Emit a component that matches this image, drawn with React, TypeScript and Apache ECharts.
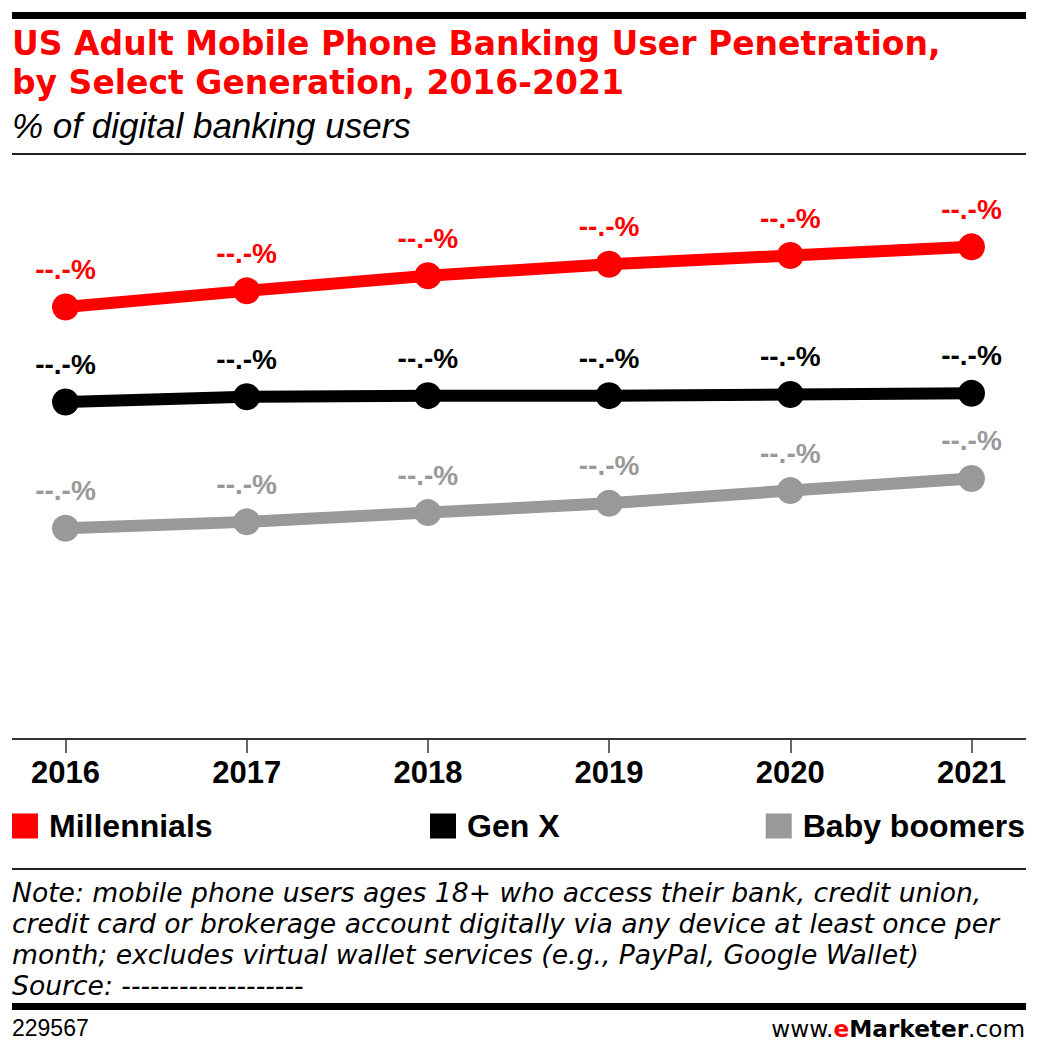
import React, { useEffect, useRef } from "react";
import * as echarts from "echarts";

const years = ["2016", "2017", "2018", "2019", "2020", "2021"];
const seriesNames = ["Millennials", "Gen X", "Baby boomers"];
const millennials = [74.6, 77.4, 80.0, 82.0, 83.5, 85.0];
const genX = [58.2, 59.1, 59.3, 59.3, 59.5, 59.7];
const boomers = [36.4, 37.5, 39.1, 40.7, 42.9, 45.0];
const valueLabel = "--.-%";
const seriesColors = ["#ff0000", "#000000", "#999999"];

const titleLines = [
  "US Adult Mobile Phone Banking User Penetration,",
  "by Select Generation, 2016-2021",
];
const subtitle = "% of digital banking users";
const noteLines = [
  "Note: mobile phone users ages 18+ who access their bank, credit union,",
  "credit card or brokerage account digitally via any device at least once per",
  "month; excludes virtual wallet services (e.g., PayPal, Google Wallet)",
  "Source: -------------------",
];
const chartId = "229567";

export default function App() {
  const ref = useRef<HTMLDivElement>(null);
  useEffect(() => {
    document.body.style.margin = "0";
    const chart = echarts.init(ref.current!, null, { renderer: "svg" });
    const allData = [millennials, genX, boomers];
    const series = seriesNames.map((name, i) => ({
      name,
      type: "line",
      data: allData[i],
      symbol: "circle",
      symbolSize: 27,
      lineStyle: { color: seriesColors[i], width: 12 },
      itemStyle: { color: seriesColors[i] },
      label: {
        show: true,
        position: "top",
        distance: 10,
        formatter: () => valueLabel,
        color: seriesColors[i],
        fontFamily: "Liberation Sans",
        fontWeight: "bold",
        fontSize: 28,
      },
      z: 3 - i,
    }));
    const legendBase = {
      orient: "horizontal",
      top: 810,
      padding: 0,
      icon: "rect",
      itemWidth: 26,
      itemHeight: 25,
      selectedMode: false,
      textStyle: {
        fontFamily: "Liberation Sans",
        fontWeight: "bold",
        fontSize: 32,
        color: "#000",
        padding: [0, 0, 0, 6],
      },
    };
    const noteGraphics = noteLines.map((t, i) => ({
      type: "text",
      x: 12,
      y: 892 + i * 31,
      style: {
        text: t,
        fontFamily: "DejaVu Sans",
        fontStyle: "italic",
        fontSize: 26.6,
        fill: "#000",
        verticalAlign: "middle",
        align: "left",
      },
    }));
    chart.setOption({
      animation: false,
      backgroundColor: "#fff",
      grid: { left: 65.5, right: 66.5, top: 160, bottom: 316 },
      xAxis: {
        type: "category",
        data: years,
        boundaryGap: false,
        axisLine: { show: false },
        axisTick: { show: true, length: 14, lineStyle: { color: "#333", width: 1.5 } },
        axisLabel: {
          margin: 18,
          fontFamily: "Liberation Sans",
          fontWeight: "bold",
          fontSize: 31,
          color: "#000",
        },
        splitLine: { show: false },
      },
      yAxis: {
        type: "value",
        min: 0,
        max: 100,
        show: false,
        splitLine: { show: false },
      },
      legend: [
        { ...legendBase, left: 12, data: [seriesNames[0]] },
        { ...legendBase, left: 430, data: [seriesNames[1]] },
        { ...legendBase, right: 13, data: [seriesNames[2]] },
      ],
      series,
      graphic: [
        { type: "rect", shape: { x: 12, y: 12, width: 1014, height: 7 }, style: { fill: "#000" } },
        {
          type: "text",
          x: 12,
          y: 43.6,
          style: {
            text: titleLines[0],
            fontFamily: "DejaVu Sans",
            fontWeight: "bold",
            fontSize: 33,
            fill: "#ff0000",
            verticalAlign: "middle",
          },
        },
        {
          type: "text",
          x: 12,
          y: 82.6,
          style: {
            text: titleLines[1],
            fontFamily: "DejaVu Sans",
            fontWeight: "bold",
            fontSize: 33,
            fill: "#ff0000",
            verticalAlign: "middle",
          },
        },
        {
          type: "text",
          x: 12,
          y: 125.6,
          style: {
            text: subtitle,
            fontFamily: "Liberation Sans",
            fontStyle: "italic",
            fontSize: 35,
            fill: "#000",
            verticalAlign: "middle",
          },
        },
        { type: "rect", shape: { x: 12, y: 153, width: 1014, height: 2 }, style: { fill: "#222" } },
        { type: "rect", shape: { x: 12, y: 738, width: 1014, height: 2 }, style: { fill: "#333" } },
        { type: "rect", shape: { x: 12, y: 868, width: 1014, height: 2 }, style: { fill: "#222" } },
        ...noteGraphics,
        { type: "rect", shape: { x: 12, y: 1003, width: 1014, height: 7 }, style: { fill: "#000" } },
        {
          type: "text",
          x: 12,
          y: 1028,
          style: {
            text: chartId,
            fontFamily: "Liberation Sans",
            fontSize: 23,
            fill: "#000",
            verticalAlign: "middle",
          },
        },
        {
          type: "text",
          x: 1025,
          y: 1028.5,
          style: {
            text: "{a|www.}{b|e}{c|Marketer}{a|.com}",
            align: "right",
            verticalAlign: "middle",
            rich: {
              a: { fontFamily: "DejaVu Sans", fontSize: 23.2, fill: "#000", color: "#000" },
              b: { fontFamily: "DejaVu Sans", fontSize: 23.2, fontWeight: "bold", fill: "#ff0000", color: "#ff0000" },
              c: { fontFamily: "DejaVu Sans", fontSize: 23.2, fontWeight: "bold", fill: "#000", color: "#000" },
            },
          },
        },
      ],
    });
    return () => chart.dispose();
  }, []);
  return <div ref={ref} style={{ width: 1038, height: 1055 }} />;
}
